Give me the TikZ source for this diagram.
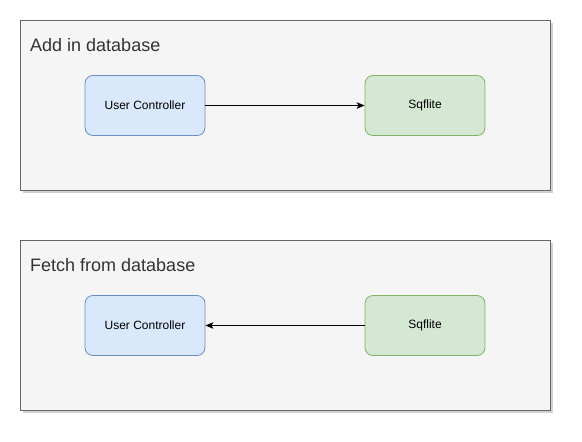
\documentclass[tikz,border=0pt]{standalone}
\usepackage{fontspec}
\setmainfont{Liberation Sans}
\usetikzlibrary{arrows.meta}
\definecolor{panelfill}{HTML}{F5F5F5}
\definecolor{paneldraw}{HTML}{666666}
\definecolor{titlegray}{HTML}{333333}
\definecolor{bluefill}{HTML}{DAE8FC}
\definecolor{bluedraw}{HTML}{6C8EBF}
\definecolor{greenfill}{HTML}{D5E8D4}
\definecolor{greendraw}{HTML}{82B366}
\tikzset{
	panel/.style={draw=paneldraw, fill=panelfill, line width=0.8pt},
	shade/.style={fill=black, opacity=0.18},
	title/.style={anchor=base west, inner sep=0pt, text=titlegray, font=\fontsize{18}{21}\selectfont},
	ctrl/.style={draw=bluedraw, fill=bluefill, rounded corners=8pt, minimum width=120pt, minimum height=60pt, font=\fontsize{12}{14}\selectfont, line width=0.8pt},
	store/.style={ctrl, draw=greendraw, fill=greenfill},
	link/.style={-{Stealth[length=8pt,width=6.5pt,inset=2pt]}, line width=0.9pt}
}
\begin{document}
\begin{tikzpicture}[x=1pt, y=-1pt]
	\useasboundingbox (0, 0) rectangle (582, 442);
	%%%%% ADD %%%%%
	\fill[shade] (23, 23) rectangle (553, 193);
	\draw[panel] (20, 20) rectangle (550, 190);
	\node[title] (addtitle) at (30, 51) {Add in database};
	\node[ctrl] (addctrl) at (145, 105.5) {User Controller};
	\node[store] (addsql) at (425, 105.5) {Sqflite};
	\draw[link] (addctrl) -- (addsql);
	%%%%% FETCH %%%%%
	\fill[shade] (23, 243) rectangle (553, 413);
	\draw[panel] (20, 240) rectangle (550, 410);
	\node[title] (fetchtitle) at (30, 271) {Fetch from database};
	\node[ctrl] (fetchctrl) at (145, 325.5) {User Controller};
	\node[store] (fetchsql) at (425, 325.5) {Sqflite};
	\draw[link] (fetchsql) -- (fetchctrl);
\end{tikzpicture}
\end{document}
